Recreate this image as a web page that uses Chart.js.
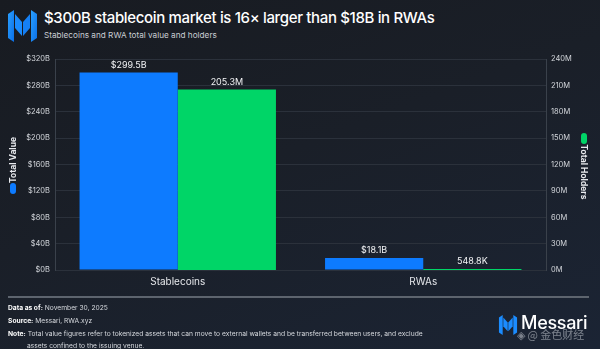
<!DOCTYPE html>
<html>
<head>
<meta charset="utf-8">
<script src="https://cdn.jsdelivr.net/npm/chart.js@4.4.1/dist/chart.umd.min.js"></script>
<style>
  html, body { margin: 0; padding: 0; }
  body {
    width: 600px; height: 349px; overflow: hidden; position: relative;
    background: linear-gradient(160deg, #181b21 0%, #1a1f28 45%, #1b2434 100%);
    font-family: Inter, "Noto Sans", sans-serif; color: #fff;
  }
  .abs { position: absolute; }
  #wrap { left: 0; top: 0; width: 600px; height: 349px; }
  .title { left: 44px; top: 8px; font-size: 15px; font-weight: 500; letter-spacing: -0.35px; white-space: nowrap; }
  .subtitle { left: 44px; top: 30px; font-size: 8.2px; color: #c9cdd3; white-space: nowrap; }
  .axis-name { font-size: 8.5px; font-weight: 700; color: #e8eaee; white-space: nowrap; }
  .pill { width: 6px; height: 11px; border-radius: 3px; }
  .rule { left: 8px; top: 296px; width: 581px; height: 2px; background: #5d646e; }
  .foot { left: 8px; font-size: 6.7px; color: #d7dadf; white-space: nowrap; }
  .foot b { color: #fff; font-weight: 700; }
  .brand { left: 521px; top: 312px; font-size: 18px; font-weight: 500; color: #fff; letter-spacing: -0.3px; }
  .mark { left: 517px; top: 326px; font-size: 11px; color: rgba(220,224,230,0.5); white-space: nowrap; font-family: "Noto Sans CJK SC", sans-serif; }
</style>
</head>
<body>
<svg class="abs" style="left:8px;top:10px" width="29" height="32" viewBox="0 0 29 32">
  <defs>
    <linearGradient id="lg" x1="0" y1="0" x2="1" y2="1">
      <stop offset="0" stop-color="#2aa0ff"/><stop offset="1" stop-color="#0a6fe8"/>
    </linearGradient>
  </defs>
  <polygon points="0,4 6,0 6,32 0,28" fill="url(#lg)"/>
  <polygon points="7,4 14,12 14,26 7,18" fill="#1b8cff"/>
  <polygon points="15,12 22,4 22,18 15,26" fill="#1580f5"/>
  <polygon points="23,0 29,4 29,28 23,32" fill="url(#lg)"/>
</svg>
<div class="abs title">$300B stablecoin market is 16× larger than $18B in RWAs</div>
<div class="abs subtitle">Stablecoins and RWA total value and holders</div>

<div class="abs" id="wrap"><canvas id="chart"></canvas></div>

<div class="abs axis-name" style="left:13px;top:160px;transform:translate(-50%,-50%) rotate(-90deg)">Total Value</div>
<div class="abs pill" style="left:10px;top:183px;background:#0d7bff"></div>
<div class="abs axis-name" style="left:584px;top:172px;transform:translate(-50%,-50%) rotate(90deg)">Total Holders</div>
<div class="abs pill" style="left:581px;top:133px;background:#00d567"></div>

<div class="abs rule"></div>
<div class="abs foot" style="top:304px"><b>Data as of:</b> November 30, 2025</div>
<div class="abs foot" style="top:317px"><b>Source:</b> Messari, RWA.xyz</div>
<div class="abs foot" style="top:330px"><b>Note:</b> Total value figures refer to tokenized assets that can move to external wallets and be transferred between users, and exclude</div>
<div class="abs foot" style="top:342px;left:27px">assets confined to the issuing venue.</div>

<svg class="abs" style="left:498px;top:315px" width="20" height="20" viewBox="0 0 29 32">
  <polygon points="0,4 6,0 6,32 0,28" fill="#1b8cff"/>
  <polygon points="7,4 14,12 14,26 7,18" fill="#1b8cff"/>
  <polygon points="15,12 22,4 22,18 15,26" fill="#1b8cff"/>
  <polygon points="23,0 29,4 29,28 23,32" fill="#1b8cff"/>
</svg>
<div class="abs brand">Messari</div>
<div class="abs mark">◈ @ 金色财经</div>

<script>
const categories = ['Stablecoins', 'RWAs'];
const totalValue = [299.5, 18.1];      // $ billions
const totalHolders = [205.3, 0.5488];  // millions
const valueTicks = [0, 40, 80, 120, 160, 200, 240, 280, 320];
const holderTicks = [0, 30, 60, 90, 120, 150, 180, 210, 240];

const BLUE = '#0d7bff';
const GREEN = '#00d567';
const TEXT = '#d3d6db';
const GRID = '#2b313b';

const fmtValue = v => '$' + v + 'B';
const fmtHolders = v => (v >= 1 ? v.toFixed(1) + 'M' : (v * 1000).toFixed(1) + 'K');

const barLabels = {
  id: 'barLabels',
  afterDatasetsDraw(chart) {
    const ctx = chart.ctx;
    ctx.save();
    ctx.font = '9px Inter, sans-serif';
    ctx.fillStyle = '#f2f3f5';
    ctx.textAlign = 'center';
    ctx.textBaseline = 'bottom';
    chart.data.datasets.forEach((ds, i) => {
      chart.getDatasetMeta(i).data.forEach((bar, j) => {
        ctx.fillText(ds.fmt(ds.data[j]), bar.x, bar.y - 3);
      });
    });
    ctx.restore();
  },
};

new Chart(document.getElementById('chart'), {
  type: 'bar',
  data: {
    labels: categories,
    datasets: [
      { label: 'Total Value', data: totalValue, yAxisID: 'y', backgroundColor: BLUE, fmt: fmtValue },
      { label: 'Total Holders', data: totalHolders, yAxisID: 'y1', backgroundColor: GREEN, fmt: fmtHolders },
    ],
  },
  options: {
    responsive: true,
    maintainAspectRatio: false,
    animation: false,
    layout: { padding: { top: 59, bottom: 49, left: 0, right: 0 } },
    datasets: { bar: { categoryPercentage: 0.8, barPercentage: 1.0, minBarLength: 1 } },
    plugins: { legend: { display: false }, tooltip: { enabled: false } },
    scales: {
      x: {
        grid: { display: false, drawTicks: false },
        border: { display: false },
        ticks: { color: '#e4e6ea', font: { family: 'Inter', size: 10 }, padding: 6 },
        afterFit: s => { s.height = 30; },
      },
      y: {
        position: 'left',
        min: 0, max: 320,
        afterBuildTicks: s => { s.ticks = valueTicks.map(v => ({ value: v })); },
        grid: { color: GRID, drawTicks: false },
        border: { color: '#3a414b' },
        ticks: { color: TEXT, font: { family: 'Inter', size: 7.5 }, padding: 5, callback: v => fmtValue(v) },
        afterFit: s => { s.width = 55; },
      },
      y1: {
        position: 'right',
        min: 0, max: 240,
        afterBuildTicks: s => { s.ticks = holderTicks.map(v => ({ value: v })); },
        grid: { display: false, drawTicks: false },
        border: { color: '#3a414b' },
        ticks: { color: TEXT, font: { family: 'Inter', size: 7.5 }, padding: 5, callback: v => v + 'M' },
        afterFit: s => { s.width = 54; },
      },
    },
  },
  plugins: [barLabels],
});
</script>
</body>
</html>
